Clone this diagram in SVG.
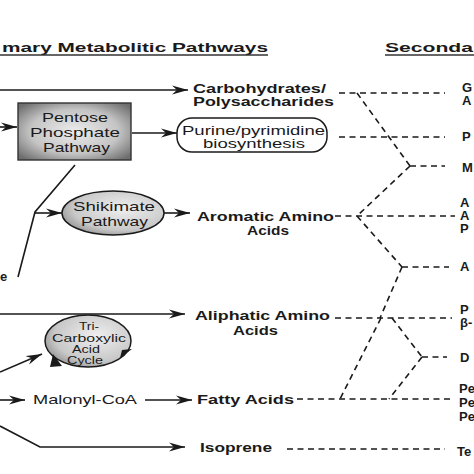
<svg xmlns="http://www.w3.org/2000/svg" width="474" height="474" viewBox="0 0 474 474">
<style>
.t{font-family:"Liberation Sans",Arial,sans-serif;fill:#1a1a1a}
.b{font-weight:bold;font-size:13px}
.n{font-weight:normal;font-size:13.5px}
.s{font-weight:normal;font-size:10.5px}
.ln{stroke:#1a1a1a;stroke-width:1.6;fill:none}
.ds{stroke:#1a1a1a;stroke-width:1.6;fill:none;stroke-dasharray:6,4.5}
.ul{stroke:#333;stroke-width:1.4}
</style>
<defs>
<marker id="ah" markerWidth="17" markerHeight="10" refX="16" refY="5" orient="auto" markerUnits="userSpaceOnUse">
<path d="M0,0.5 L16,5 L0,9.5 L5,5 z" fill="#1a1a1a"/>
</marker>
<radialGradient id="gBox" cx="0.5" cy="0.5" r="0.65">
<stop offset="0" stop-color="#ececec"/>
<stop offset="0.6" stop-color="#c4c4c4"/>
<stop offset="1" stop-color="#6e6e6e"/>
</radialGradient>
<radialGradient id="gEll" cx="0.6" cy="0.4" r="0.7">
<stop offset="0" stop-color="#efefef"/>
<stop offset="0.7" stop-color="#c8c8c8"/>
<stop offset="1" stop-color="#8a8a8a"/>
</radialGradient>
</defs>
<rect width="474" height="474" fill="#fff"/>

<g id="titles">
<text class="t b" x="2" y="52" textLength="266" lengthAdjust="spacingAndGlyphs" font-size="15">mary Metabolitic Pathways</text>
<line class="ul" x1="0" y1="55" x2="268" y2="55"/>
<text class="t b" x="385" y="52" textLength="88" lengthAdjust="spacingAndGlyphs" font-size="15">Seconda</text>
<line class="ul" x1="385" y1="55" x2="474" y2="55"/>
</g>

<g id="connectors">
<line class="ln" x1="0" y1="90" x2="188" y2="90" marker-end="url(#ah)"/>
<line class="ln" x1="0" y1="127" x2="17" y2="127" marker-end="url(#ah)"/>
<line class="ln" x1="132" y1="133" x2="177" y2="133" marker-end="url(#ah)"/>
<polyline class="ln" points="75,165 35,212 18,277"/>
<line class="ln" x1="35" y1="213" x2="62" y2="213" marker-end="url(#ah)"/>
<line class="ln" x1="164" y1="213" x2="190" y2="213" marker-end="url(#ah)"/>
<line class="ln" x1="0" y1="314" x2="185" y2="314" marker-end="url(#ah)"/>
<line class="ln" x1="0" y1="372" x2="42" y2="354" marker-end="url(#ah)"/>
<line class="ln" x1="0" y1="400" x2="25" y2="400" marker-end="url(#ah)"/>
<line class="ln" x1="145" y1="400" x2="192" y2="400" marker-end="url(#ah)"/>
<polyline class="ln" points="0,426 40,447 185,447" marker-end="url(#ah)"/>

<line class="ds" x1="339" y1="93" x2="445" y2="93"/>
<line class="ds" x1="339" y1="137" x2="445" y2="137"/>
<line class="ds" x1="357" y1="93" x2="410" y2="166"/>
<line class="ds" x1="410" y1="166" x2="445" y2="166"/>
<line class="ds" x1="410" y1="166" x2="357" y2="216"/>
<line class="ds" x1="335" y1="216" x2="455" y2="216"/>
<line class="ds" x1="357" y1="216" x2="402" y2="267"/>
<line class="ds" x1="402" y1="267" x2="449" y2="267"/>
<line class="ds" x1="402" y1="267" x2="380" y2="318"/>
<line class="ds" x1="335" y1="318" x2="452" y2="318"/>
<line class="ds" x1="392" y1="318" x2="422" y2="357"/>
<line class="ds" x1="422" y1="357" x2="447" y2="357"/>
<line class="ds" x1="422" y1="357" x2="389" y2="399"/>
<line class="ds" x1="381" y1="318" x2="340" y2="399"/>
<line class="ds" x1="297" y1="399" x2="450" y2="399"/>
<line class="ds" x1="287" y1="449" x2="445" y2="449"/>
</g>

<g id="node-e"><text class="t b" x="0" y="281" font-size="14">e</text></g>

<g id="node-carbohydrates">
<text class="t b" x="193" y="93" textLength="133" lengthAdjust="spacingAndGlyphs">Carbohydrates/</text>
<text class="t b" x="193" y="106" textLength="141" lengthAdjust="spacingAndGlyphs">Polysaccharides</text>
</g>

<g id="node-pentose">
<rect x="18" y="103" width="113" height="57" fill="url(#gBox)" stroke="#333" stroke-width="1.4"/>
<text class="t n" x="42" y="122" textLength="66" lengthAdjust="spacingAndGlyphs">Pentose</text>
<text class="t n" x="30" y="137" textLength="90" lengthAdjust="spacingAndGlyphs">Phosphate</text>
<text class="t n" x="43" y="152" textLength="67" lengthAdjust="spacingAndGlyphs">Pathway</text>
</g>

<g id="node-purine">
<rect x="177" y="118" width="150" height="34" rx="15" ry="15" fill="#fff" stroke="#1a1a1a" stroke-width="1.5"/>
<text class="t n" x="182" y="135" textLength="143" lengthAdjust="spacingAndGlyphs" font-size="12.5">Purine/pyrimidine</text>
<text class="t n" x="203" y="148" textLength="102" lengthAdjust="spacingAndGlyphs" font-size="12.5">biosynthesis</text>
</g>

<g id="node-shikimate">
<ellipse cx="113" cy="213" rx="51" ry="22" fill="url(#gEll)" stroke="#1a1a1a" stroke-width="1.5"/>
<text class="t n" x="73" y="211" textLength="82" lengthAdjust="spacingAndGlyphs">Shikimate</text>
<text class="t n" x="81" y="226" textLength="67" lengthAdjust="spacingAndGlyphs">Pathway</text>
</g>

<g id="node-aromatic">
<text class="t b" x="197" y="221" textLength="137" lengthAdjust="spacingAndGlyphs">Aromatic Amino</text>
<text class="t b" x="247" y="235" textLength="42" lengthAdjust="spacingAndGlyphs">Acids</text>
</g>

<g id="node-aliphatic">
<text class="t b" x="195" y="320" textLength="135" lengthAdjust="spacingAndGlyphs">Aliphatic Amino</text>
<text class="t b" x="233" y="335" textLength="45" lengthAdjust="spacingAndGlyphs">Acids</text>
</g>

<g id="node-tca">
<ellipse cx="88" cy="341" rx="43" ry="26" fill="url(#gEll)" stroke="#1a1a1a" stroke-width="1.5"/>
<path d="M50,367 L62,366 L53,354 z" fill="#1a1a1a"/>
<path d="M120,358 L132,349 L122,350 z" fill="#1a1a1a"/>
<text class="t s" x="89" y="330" text-anchor="middle" textLength="20" lengthAdjust="spacingAndGlyphs">Tri-</text>
<text class="t s" x="89" y="342" text-anchor="middle" textLength="74" lengthAdjust="spacingAndGlyphs">Carboxylic</text>
<text class="t s" x="86" y="353" text-anchor="middle" textLength="28" lengthAdjust="spacingAndGlyphs">Acid</text>
<text class="t s" x="85" y="364" text-anchor="middle" textLength="36" lengthAdjust="spacingAndGlyphs">Cycle</text>
</g>

<g id="node-malonyl">
<text class="t n" x="33" y="404" textLength="104" lengthAdjust="spacingAndGlyphs">Malonyl-CoA</text>
</g>

<g id="node-fatty">
<text class="t b" x="197" y="404" textLength="97" lengthAdjust="spacingAndGlyphs">Fatty Acids</text>
</g>

<g id="node-isoprene">
<text class="t b" x="200" y="452" textLength="72" lengthAdjust="spacingAndGlyphs">Isoprene</text>
</g>

<g id="secondary">
<text class="t b" x="462" y="92">G</text>
<text class="t b" x="462" y="105">A</text>
<text class="t b" x="462" y="141">P</text>
<text class="t b" x="462" y="172">M</text>
<text class="t b" x="460" y="207">A</text>
<text class="t b" x="460" y="220" font-size="9.5">A</text>
<text class="t b" x="460" y="233">P</text>
<text class="t b" x="460" y="271">A</text>
<text class="t b" x="460" y="314">P</text>
<text class="t b" x="460" y="327" font-size="10.5">β-</text>
<text class="t b" x="460" y="362">D</text>
<text class="t b" x="459" y="393">Pe</text>
<text class="t b" x="459" y="407">Pe</text>
<text class="t b" x="459" y="421">Pe</text>
<text class="t b" x="457" y="456">Te</text>
</g>
</svg>
